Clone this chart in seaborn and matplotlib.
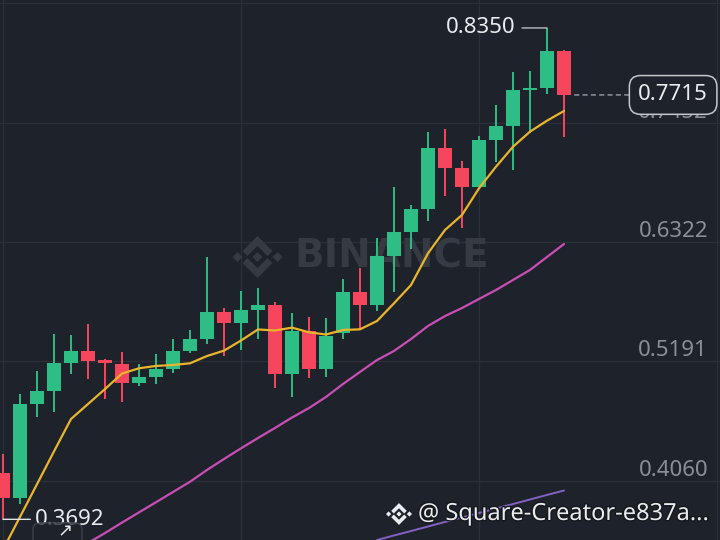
import numpy as np
import pandas as pd
import seaborn as sns
import matplotlib.pyplot as plt
import matplotlib.patheffects as pe
from matplotlib.patches import Polygon, FancyBboxPatch

# ---- data ----
open_ = [0.4128, 0.3891, 0.4782, 0.4911, 0.5174, 0.5288, 0.5200, 0.5164, 0.4984, 0.5044,
         0.5114, 0.5288, 0.5401, 0.5662, 0.5550, 0.5676, 0.5724, 0.5067, 0.5480, 0.5117,
         0.5461, 0.5850, 0.5724, 0.6191, 0.6419, 0.6634, 0.7209, 0.7020, 0.6845, 0.7288,
         0.7421, 0.7762, 0.7778, 0.8132]
high = [0.4311, 0.4877, 0.5098, 0.5449, 0.5439, 0.5544, 0.5212, 0.5281, 0.5162, 0.5256,
        0.5399, 0.5487, 0.6182, 0.5698, 0.5857, 0.5885, 0.5749, 0.5645, 0.5607, 0.5598,
        0.5967, 0.6072, 0.6356, 0.6840, 0.6672, 0.7367, 0.7389, 0.7089, 0.7326, 0.7617,
        0.7935, 0.7945, 0.8350, 0.8141]
low = [0.3692, 0.3837, 0.4659, 0.4707, 0.5073, 0.5025, 0.4830, 0.4807, 0.4959, 0.4975,
       0.5079, 0.5266, 0.5351, 0.5237, 0.5297, 0.5401, 0.4940, 0.4849, 0.5035, 0.5044,
       0.5401, 0.5496, 0.5664, 0.5850, 0.6255, 0.6523, 0.6760, 0.6451, 0.6838, 0.7077,
       0.7004, 0.7357, 0.7721, 0.7319]
close = [0.3891, 0.4782, 0.4911, 0.5174, 0.5288, 0.5193, 0.5174, 0.4981, 0.5044, 0.5114,
         0.5288, 0.5399, 0.5655, 0.5550, 0.5676, 0.5724, 0.5067, 0.5480, 0.5117, 0.5433,
         0.5850, 0.5724, 0.6191, 0.6419, 0.6634, 0.7209, 0.7020, 0.6845, 0.7288, 0.7421,
         0.7762, 0.7778, 0.8132, 0.7715]

# moving averages (yellow / pink / purple)
ma7 = [0.3405, 0.3715, 0.4025, 0.4336, 0.4643, 0.4785, 0.4927, 0.5074, 0.5124, 0.5146,
       0.5155, 0.5171, 0.5240, 0.5291, 0.5387, 0.5492, 0.5482, 0.5509, 0.5465, 0.5444,
       0.5487, 0.5493, 0.5572, 0.5740, 0.5913, 0.6214, 0.6435, 0.6577, 0.6830, 0.7035,
       0.7224, 0.7367, 0.7471, 0.7563]
ma25 = [np.nan] * 5 + [0.3468, 0.3562, 0.3661, 0.3758, 0.3854, 0.3951, 0.4048, 0.4160,
                       0.4264, 0.4365, 0.4463, 0.4558, 0.4657, 0.4747, 0.4852, 0.4975,
                       0.5089, 0.5202, 0.5288, 0.5401, 0.5525, 0.5619, 0.5695, 0.5781,
                       0.5866, 0.5961, 0.6056, 0.6179, 0.6302]
ma99 = [np.nan] * 22 + [0.3496, 0.3539, 0.3581, 0.3624, 0.3667, 0.3709, 0.3752, 0.3795,
                        0.3837, 0.3880, 0.3923, 0.3965]

grid_prices = [0.4060, 0.5191, 0.6322, 0.7452, 0.8583]
price_labels = ["0.4060", "0.5191", "0.6322", "0.7452"]
last_price = "0.7715"
high_label = "0.8350"
low_label = "0.3692"
watermark = "BINANCE"
creator = "@ Square-Creator-e837a..."

BG = "#1e222a"
GRID = "#2a2f38"
GREEN = "#2ebd85"
RED = "#f6465d"
YELLOW = "#e9b52c"
PINK = "#c94fb6"
PURPLE = "#8461c6"
LABEL = "#8a8f98"
WHITE = "#eaecef"

sns.set_theme(style="dark", rc={"axes.facecolor": BG, "figure.facecolor": BG})
plt.rcParams['font.family'] = ['Noto Sans', 'DejaVu Sans']

df = pd.DataFrame({"i": np.arange(len(close)), "open": open_, "high": high,
                   "low": low, "close": close, "ma7": ma7, "ma25": ma25, "ma99": ma99})

fig = plt.figure(figsize=(7.2, 5.4), dpi=100)
ax = fig.add_axes([0, 0, 1, 1])
W, H = 720, 540


def logo(cx, cy, h, color, z):
    # binance-ish diamond logo, pixel centre / half width
    def P(pts):
        return [((cx + u * h) / W, 1 - (cy - v * h) / H) for u, v in pts]
    shapes = [
        [(0, 0.2), (0.2, 0), (0, -0.2), (-0.2, 0)],
        [(-0.8, 0.2), (-0.6, 0), (-0.8, -0.2), (-1.0, 0)],
        [(0.8, 0.2), (1.0, 0), (0.8, -0.2), (0.6, 0)],
        [(-0.6, 0.24), (0, 0.84), (0.6, 0.24), (0.4, 0.04), (0, 0.44), (-0.4, 0.04)],
        [(-0.6, -0.24), (0, -0.84), (0.6, -0.24), (0.4, -0.04), (0, -0.44), (-0.4, -0.04)],
    ]
    for s in shapes:
        ax.add_patch(Polygon(P(s), closed=True, fc=color, ec="none",
                             transform=ax.transAxes, zorder=z))


# watermark under everything
logo(257.5, 257, 25, "#353a43", 1)
ax.text(294 / W, 1 - 257 / H, watermark, transform=ax.transAxes, ha="left", va="center",
        fontsize=28, fontweight="bold", color="#353a43", family="DejaVu Sans", zorder=1)

# candles
up = df["close"] >= df["open"]
colors = np.where(up, GREEN, RED)
ax.vlines(df["i"], df["low"], df["high"], colors=colors, lw=1.4, zorder=3)
body = (df["close"] - df["open"]).abs().clip(lower=0.0012)
ax.bar(df["i"], body, bottom=df[["open", "close"]].min(axis=1), width=0.88,
       color=colors, edgecolor=colors, linewidth=0, zorder=4)

# moving averages
sns.lineplot(data=df, x="i", y="ma7", color=YELLOW, lw=1.6, ax=ax, zorder=5)
sns.lineplot(data=df, x="i", y="ma25", color=PINK, lw=1.6, ax=ax, zorder=5)
sns.lineplot(data=df, x="i", y="ma99", color=PURPLE, lw=1.4, ax=ax, zorder=5)

ax.set_xlim(-3 / 17, 717 / 17)
ax.set_ylim(0.3496, 0.8615)
ax.set_yticks(grid_prices)
ax.set_xticks([0, 14, 28, 42])
ax.grid(True, color=GRID, lw=1)
ax.tick_params(labelleft=False, labelbottom=False, length=0)
ax.set_xlabel("")
ax.set_ylabel("")
for s in ax.spines.values():
    s.set_visible(False)

# right price scale
for v, lab in zip(grid_prices, price_labels):
    ax.annotate(lab, xy=(1, v), xycoords=("axes fraction", "data"), xytext=(-12, 5),
                textcoords="offset pixels", ha="right", va="baseline",
                color=LABEL, fontsize=16, zorder=6)

# last price tag with dashed leader
ax.annotate(last_price, xy=(df["i"].iloc[-1] + 0.45, close[-1]), xycoords="data",
            xytext=(708 / W, close[-1]), textcoords=("axes fraction", "data"),
            ha="right", va="center", color=WHITE, fontsize=16, zorder=8,
            bbox=dict(boxstyle="round,pad=0.4,rounding_size=0.5", fc=BG, ec="#c4c7cc", lw=1.1),
            arrowprops=dict(arrowstyle="-", ls=(0, (3, 3)), color="#9aa0a8", lw=1,
                            shrinkA=0, shrinkB=0))

# high / low markers
hi_i = int(np.argmax(high))
ax.annotate(high_label, xy=(hi_i, high[hi_i]), xytext=(-31, 0), textcoords="offset pixels",
            ha="right", va="center", color=WHITE, fontsize=16, zorder=8,
            arrowprops=dict(arrowstyle="-", color="#b7bdc6", lw=1, shrinkA=2, shrinkB=0))
lo_i = int(np.argmin(low))
ax.annotate(low_label, xy=(lo_i, low[lo_i]), xytext=(32, 0), textcoords="offset pixels",
            ha="left", va="center", color=WHITE, fontsize=16, zorder=8,
            arrowprops=dict(arrowstyle="-", color="#e0e3e7", lw=1, shrinkA=1, shrinkB=0))

# little button in the bottom-left corner
ax.add_patch(FancyBboxPatch((33 / W, -0.03), 49 / W, 0.062,
                            boxstyle="round,pad=0,rounding_size=0.012",
                            transform=ax.transAxes, fc=BG, alpha=0.75,
                            ec="#4a4f58", lw=1, zorder=9))
ax.text(65 / W, 1 - 531 / H, "\u2197", transform=ax.transAxes, ha="center", va="center",
        color=WHITE, fontsize=13, family=["DejaVu Sans"], zorder=10)

# creator watermark bottom right
logo(399, 514, 13, WHITE, 10)
ax.text(418 / W, 1 - 514 / H, creator, transform=ax.transAxes, ha="left", va="center",
        color=WHITE, fontsize=17, zorder=10,
        path_effects=[pe.withStroke(linewidth=2, foreground="#15181d")])

fig.savefig("out.png", dpi=100, facecolor=BG)
